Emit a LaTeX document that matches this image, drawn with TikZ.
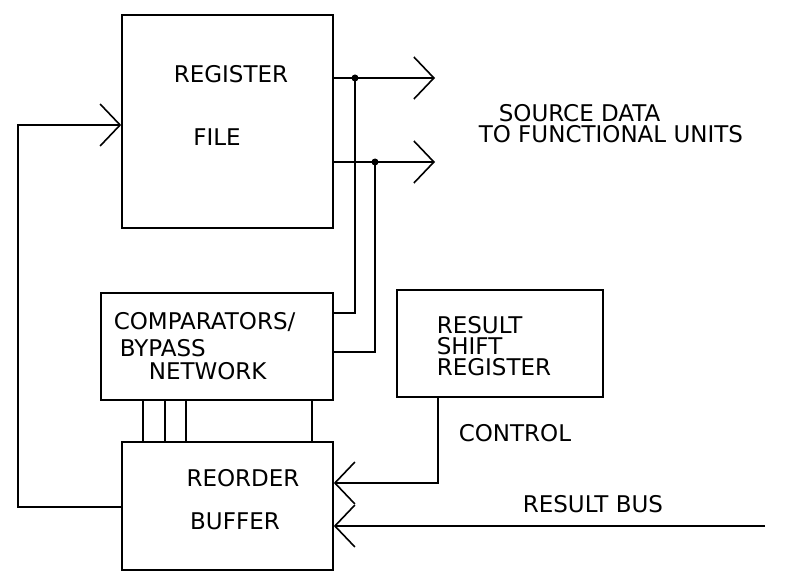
\documentclass[tikz,border=0pt]{standalone}
\usepackage{fontspec}
\setmainfont{DejaVu Sans}
\usetikzlibrary{arrows.meta, positioning}

\begin{document}
\begin{tikzpicture}[x=1pt, y=-1pt, line width=1.6pt,
    >={Straight Barb[length=20pt, width=42pt, line width=1.6pt]},
    blk/.style={draw, rectangle, inner sep=0pt},
    lbl/.style={font=\fontsize{23}{21}\selectfont, align=left, inner sep=0pt}]

	\useasboundingbox (0,0) rectangle (807,583);

	\node (regfile) [blk, minimum width=211pt, minimum height=213pt] at (227.5,121.5) {};
	\node (comp) [blk, minimum width=232pt, minimum height=107pt] at (217,346.5) {};
	\node (shift) [blk, minimum width=206pt, minimum height=107pt] at (500,343.5) {};
	\node (reorder) [blk, minimum width=211pt, minimum height=128pt] at (227.5,506) {};

	\node [lbl] at (231,74) {REGISTER};
	\node [lbl] at (217,137) {FILE};
	\node [lbl, anchor=west] at (113,322) {COMPARATORS/};
	\node [lbl, anchor=west] at (119,348) {BYPASS};
	\node [lbl, anchor=west] at (148,371) {NETWORK};
	\node [lbl, anchor=west] (shifttxt) at (436,346) {RESULT\\SHIFT\\REGISTER};
	\node [lbl, anchor=west] at (458,433) {CONTROL};
	\node [lbl] at (243,478) {REORDER};
	\node [lbl] at (235,521) {BUFFER};
	\node [lbl, anchor=west] at (522,504) {RESULT BUS};
	\node [lbl, anchor=west] at (498,113) {SOURCE DATA};
	\node [lbl, anchor=west] at (478,134) {TO FUNCTIONAL UNITS};

	% outputs of the register file
	\coordinate (src1) at (435,78);
	\coordinate (src2) at (435,162);
	\coordinate (j1) at (355,78);
	\coordinate (j2) at (375,162);
	\draw[->] (regfile.east |- j1) -- (src1);
	\draw[->] (regfile.east |- j2) -- (src2);
	\fill (j1) circle (3.5pt) (j2) circle (3.5pt);
	\draw (j1) -- (j1 |- 0,313) -- (comp.east |- 0,313);
	\draw (j2) -- (j2 |- 0,352) -- (comp.east |- 0,352);

	% buffer to comparators
	\foreach \x in {143,165,186,312}
		\draw (\x,400) -- (\x,442);

	% feedback to the register file
	\coordinate (fb) at (18,507);
	\draw[->] (reorder.west |- fb) -- (fb) -- (18,125) -- (regfile.west |- 0,125);

	% control and result bus
	\coordinate (ctl) at (438,483);
	\coordinate (bus) at (765,526);
	\draw[->] (shift.south -| ctl) -- (ctl) -- (reorder.east |- ctl);
	\draw[->] (bus) -- (reorder.east |- bus);

\end{tikzpicture}
\end{document}
